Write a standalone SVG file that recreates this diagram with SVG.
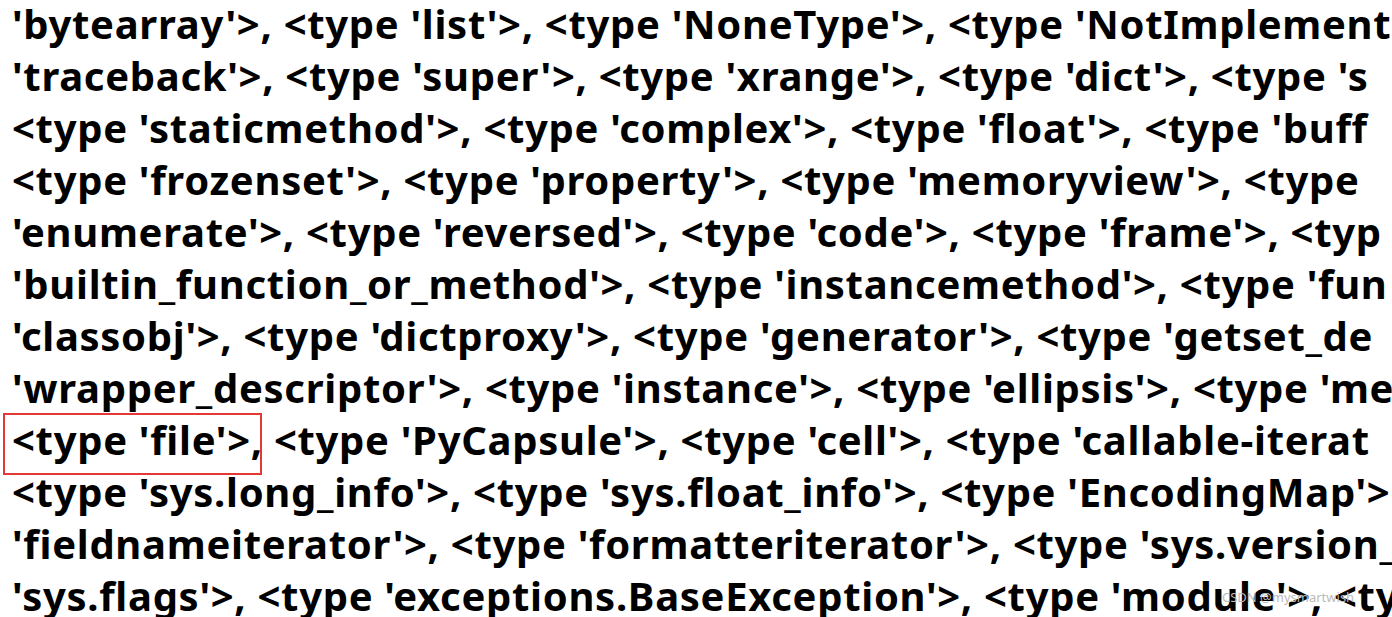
<svg xmlns="http://www.w3.org/2000/svg" width="1392" height="617" viewBox="0 0 1392 617">
<style>
.t{font-family:"Noto Sans","Open Sans",sans-serif;font-size:40px;font-weight:700;letter-spacing:0.7px;fill:#000}
.w{font-family:"Noto Sans",sans-serif;font-size:13px;fill:#bbb}
</style>
<rect width="1392" height="617" fill="#fff"/>
<g id="text">
<text class="t" x="12" y="39">'bytearray'&gt;, &lt;type 'list'&gt;, &lt;type 'NoneType'&gt;, &lt;type 'NotImplement</text>
<text class="t" x="12" y="91">'traceback'&gt;, &lt;type 'super'&gt;, &lt;type 'xrange'&gt;, &lt;type 'dict'&gt;, &lt;type 's</text>
<text class="t" x="12" y="143">&lt;type 'staticmethod'&gt;, &lt;type 'complex'&gt;, &lt;type 'float'&gt;, &lt;type 'buff</text>
<text class="t" x="12" y="195">&lt;type 'frozenset'&gt;, &lt;type 'property'&gt;, &lt;type 'memoryview'&gt;, &lt;type</text>
<text class="t" x="12" y="247">'enumerate'&gt;, &lt;type 'reversed'&gt;, &lt;type 'code'&gt;, &lt;type 'frame'&gt;, &lt;typ</text>
<text class="t" x="12" y="299">'builtin_function_or_method'&gt;, &lt;type 'instancemethod'&gt;, &lt;type 'fun</text>
<text class="t" x="12" y="351">'classobj'&gt;, &lt;type 'dictproxy'&gt;, &lt;type 'generator'&gt;, &lt;type 'getset_de</text>
<text class="t" x="12" y="403">'wrapper_descriptor'&gt;, &lt;type 'instance'&gt;, &lt;type 'ellipsis'&gt;, &lt;type 'me</text>
<text class="t" x="12" y="455">&lt;type 'file'&gt;, &lt;type 'PyCapsule'&gt;, &lt;type 'cell'&gt;, &lt;type 'callable-iterat</text>
<text class="t" x="12" y="507">&lt;type 'sys.long_info'&gt;, &lt;type 'sys.float_info'&gt;, &lt;type 'EncodingMap'&gt;</text>
<text class="t" x="12" y="559">'fieldnameiterator'&gt;, &lt;type 'formatteriterator'&gt;, &lt;type 'sys.version_i</text>
<text class="t" x="12" y="611">'sys.flags'&gt;, &lt;type 'exceptions.BaseException'&gt;, &lt;type 'module'&gt;, &lt;type</text>
</g>
<rect id="highlight" x="4" y="414" width="257" height="60" fill="none" stroke="#e53935" stroke-width="2"/>
<text class="w" x="1222" y="602">CSDN @mysmartwish</text>
</svg>
